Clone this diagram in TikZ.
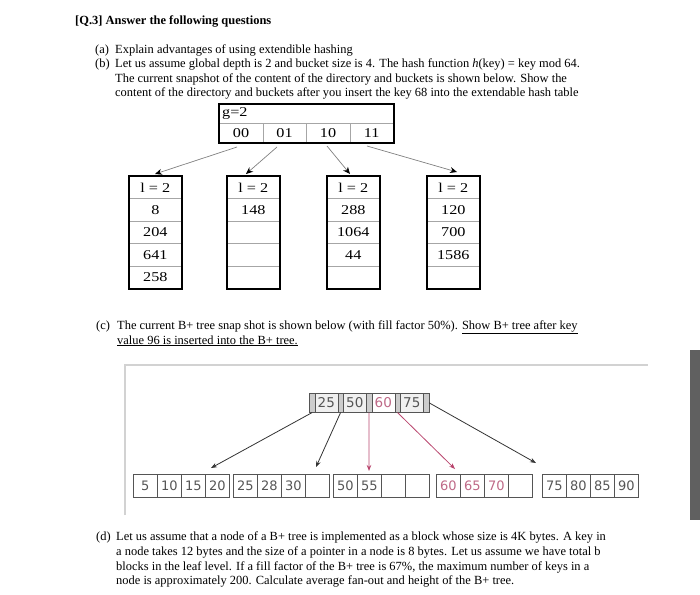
\documentclass[tikz,border=0pt]{standalone}
\usepackage{fontspec}
\setmainfont{Liberation Serif}
\newfontfamily\treefont{DejaVu Sans}
\usetikzlibrary{arrows.meta}
\definecolor{pinkline}{RGB}{185,70,110}
\definecolor{pinktext}{RGB}{190,105,135}
\definecolor{treegray}{RGB}{85,85,85}
\newcommand{\hs}[1]{\scalebox{1.2}[1]{#1}}
\begin{document}
\begin{tikzpicture}[x=1pt,y=-1pt,
  txt/.style={anchor=base west, inner sep=0pt, font=\fontsize{12.45}{14}\selectfont},
  hcell/.style={draw=gray!70, line width=0.6pt, minimum width=52pt, minimum height=22.4pt, inner sep=0pt, anchor=north west, font=\fontsize{13.5}{14}\selectfont},
  dcell/.style={draw=gray!70, line width=0.6pt, minimum width=43.5pt, minimum height=19pt, inner sep=0pt, anchor=north west, font=\fontsize{13.5}{14}\selectfont},
  thickbox/.style={draw=black, line width=1.8pt},
  harrow/.style={draw=gray, line width=0.7pt, -{Stealth[color=black, length=7pt, width=6pt]}},
  lcell/.style={draw=treegray, line width=0.7pt, minimum width=24pt, minimum height=23pt, inner sep=0pt, anchor=north west, font=\treefont\fontsize{13}{14}\selectfont, text=treegray},
  pcell/.style={draw=treegray, line width=0.6pt, fill=gray!40, minimum width=5.5pt, minimum height=19pt, inner sep=0pt, anchor=north west},
  kcell/.style={draw=treegray, line width=0.6pt, fill=gray!12, minimum width=23pt, minimum height=19pt, inner sep=0pt, anchor=north west, font=\treefont\fontsize{13.5}{14}\selectfont, text=treegray},
  tarrow/.style={draw=black!80, line width=0.8pt, -{Stealth[length=6pt, width=4.5pt]}},
  parrow/.style={draw=pinkline, line width=0.8pt, -{Stealth[length=6pt, width=4.5pt]}}
]
\useasboundingbox (0,0) rectangle (700,594);

% ---------- header & part (a),(b) ----------
\node[txt, font=\bfseries\fontsize{12.45}{14}\selectfont] (hdr) at (75,25) {[Q.3] Answer the following questions};
\node[txt] (la) at (95,53) {(a)};
\node[txt] (ta) at (115,53) {Explain advantages of using extendible hashing};
\node[txt] (lb) at (95,67.5) {(b)};
\node[txt] (tb1) at (115,67.5) {Let us assume global depth is 2 and bucket size is 4. The hash function \textit{h}(key) = key mod 64.};
\node[txt] (tb2) at (115,82) {The current snapshot of the content of the directory and buckets is shown below. Show the};
\node[txt] (tb3) at (115,96.5) {content of the directory and buckets after you insert the key 68 into the extendable hash table};

% ---------- directory ----------
\node[draw=gray!70, line width=0.6pt, minimum width=174pt, minimum height=19pt, inner sep=0pt, anchor=north west] (gtop) at (219,104) {};
\node[anchor=west, inner sep=0pt, font=\fontsize{13.5}{14}\selectfont] (glab) at (222,113.5) {\hs{g=2}};
\node[dcell] (d00) at (219,123) {\hs{00}};
\node[dcell] (d01) at (262.5,123) {\hs{01}};
\node[dcell] (d10) at (306,123) {\hs{10}};
\node[dcell] (d11) at (349.5,123) {\hs{11}};
\draw[thickbox] (gtop.north west) rectangle (d11.south east);

% ---------- buckets ----------
\foreach \b/\x/\va/\vb/\vc/\vd in {1/129/8/204/641/258, 2/227/148/{}/{}/{}, 3/327/288/1064/44/{}, 4/427/120/700/1586/{}}{
  \node[hcell] (b\b r0) at (\x,176) {\hs{l = 2}};
  \node[hcell] (b\b r1) at (\x,198.4) {\hs{\va}};
  \node[hcell] (b\b r2) at (\x,220.8) {\hs{\vb}};
  \node[hcell] (b\b r3) at (\x,243.2) {\hs{\vc}};
  \node[hcell] (b\b r4) at (\x,265.6) {\hs{\vd}};
  \draw[thickbox] (b\b r0.north west) rectangle (b\b r4.south east);
}

\coordinate (hs1) at (237,147);
\coordinate (hs2) at (277,147);
\coordinate (hs3) at (327,146);
\coordinate (hs4) at (367,146);
\coordinate (he1) at (155,174);
\coordinate (he2) at (246,174);
\coordinate (he3) at (350,174);
\coordinate (he4) at (457,172);
\draw[harrow] (hs1) -- (he1);
\draw[harrow] (hs2) -- (he2);
\draw[harrow] (hs3) -- (he3);
\draw[harrow] (hs4) -- (he4);

% ---------- part (c) ----------
\node[txt] (lc) at (96,329) {(c)};
\node[txt] (tc1) at (117,329) {The current B+ tree snap shot is shown below (with fill factor 50\%). \underline{Show B+ tree after key}};
\node[txt] (tc2) at (117,344) {\underline{value 96 is inserted into the B+ tree.}};

% frame of the B+ tree screenshot
\draw[gray!35, line width=1.5pt] (125,515) -- (125,365) -- (648,365);
% right gray bar
\fill[gray!75!black] (690,350) rectangle (700,520);

% root node
\node[pcell] (p0) at (309,393) {};
\node[kcell] (k25) at (314.5,393) {25};
\node[pcell] (p1) at (337.5,393) {};
\node[kcell] (k50) at (343,393) {50};
\node[pcell] (p2) at (366,393) {};
\node[kcell, fill=white, text=pinktext] (k60) at (371.5,393) {60};
\node[pcell] (p3) at (394.5,393) {};
\node[kcell] (k75) at (400,393) {75};
\node[pcell] (p4) at (423,393) {};

% leaves
\foreach \l/\x/\va/\vb/\vc/\vd in {1/133/5/10/15/20, 2/233/25/28/30/{}, 3/333/50/55/{}/{}, 5/542/75/80/85/90}{
  \node[lcell] (l\l a) at (\x,474) {\va};
  \node[lcell] (l\l b) at (\x+24,474) {\vb};
  \node[lcell] (l\l c) at (\x+48,474) {\vc};
  \node[lcell] (l\l d) at (\x+72,474) {\vd};
}
\node[lcell, text=pinktext] (l4a) at (436,474) {60};
\node[lcell, text=pinktext] (l4b) at (460,474) {65};
\node[lcell, text=pinktext] (l4c) at (484,474) {70};
\node[lcell] (l4d) at (508,474) {};

\coordinate (te1) at (211,468);
\coordinate (te2) at (316,467);
\coordinate (te3) at (369,471);
\coordinate (te4) at (455,469);
\coordinate (te5) at (536,463);
\draw[tarrow] (p0.south) -- (te1);
\draw[tarrow] (p1.south) -- (te2);
\draw[parrow] (p2.south) -- (te3);
\draw[parrow] (p3.south) -- (te4);
\draw[tarrow] (p4.east) -- (te5);

% ---------- part (d) ----------
\node[txt] (ld) at (96,540) {(d)};
\node[txt] (td1) at (116,540) {Let us assume that a node of a B+ tree is implemented as a block whose size is 4K bytes. A key in};
\node[txt] (td2) at (116,555) {a node takes 12 bytes and the size of a pointer in a node is 8 bytes. Let us assume we have total b};
\node[txt] (td3) at (116,570) {blocks in the leaf level. If a fill factor of the B+ tree is 67\%, the maximum number of keys in a};
\node[txt] (td4) at (116,584) {node is approximately 200. Calculate average fan-out and height of the B+ tree.};
\end{tikzpicture}
\end{document}
